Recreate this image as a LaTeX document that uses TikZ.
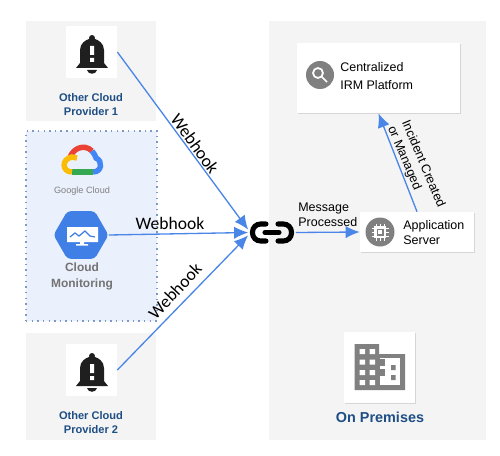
\documentclass[tikz,border=0pt]{standalone}
\usepackage{fontspec}
\setmainfont{Liberation Sans}
\newfontfamily\webfont{Carlito}
\usetikzlibrary{arrows.meta,shadows,shapes.geometric}
\definecolor{panelgray}{HTML}{F4F4F4}
\definecolor{panelblue}{HTML}{EAF0FC}
\definecolor{dotblue}{HTML}{7F99C6}
\definecolor{arrowblue}{HTML}{4A86E8}
\definecolor{headblue}{HTML}{1F4E84}
\definecolor{icongray}{HTML}{808080}
\definecolor{hexblue}{HTML}{3F7FE6}
\definecolor{logored}{HTML}{EA4335}
\definecolor{logoblue}{HTML}{4285F4}
\definecolor{logogreen}{HTML}{34A853}
\definecolor{logoyellow}{HTML}{FBBC05}
\tikzset{
    panelbox/.style={fill=#1, draw=none, inner sep=0pt},
    iconbox/.style={fill=white, draw=none, inner sep=0pt, minimum width=1.02cm, minimum height=1.04cm},
    shadowbox/.style={fill=white, draw=none, inner sep=0pt, drop shadow={shadow xshift=0.3pt, shadow yshift=-0.6pt, opacity=0.25}},
    flow/.style={arrowblue, line width=0.75pt, -{Latex[length=8pt,width=7pt]}},
    headtext/.style={text=headblue, font=\bfseries\fontsize{6.3}{8}\selectfont, align=center},
    greytext/.style={text=black!55, font=\bfseries\fontsize{6.8}{8.8}\selectfont, align=center},
    boxtext/.style={align=left, anchor=west, font=\fontsize{7.1}{10}\selectfont},
    smalltext/.style={align=left, font=\fontsize{7.1}{8.6}\selectfont},
    webhook/.style={font=\webfont\fontsize{10}{12}\selectfont}
}
\newcommand{\bellicon}[2]{%
    \begin{scope}[shift={(#1,#2)}]
        \fill[black!88] (-16,15) -- (-12,10) -- (-12,-3) .. controls (-12,-10) and (-6,-13) .. (-3,-14)
            -- (3,-14) .. controls (6,-13) and (12,-10) .. (12,-3) -- (12,10) -- (16,15) -- cycle;
        \fill[black!88] (0,-15) circle (3);
        \fill[black!88] (-5,17) .. controls (-4,22) and (4,22) .. (5,17) -- cycle;
        \fill[white] (-2,-7) rectangle (2,2) (-2,5) rectangle (2,9);
    \end{scope}}
\begin{document}
\begin{tikzpicture}[x=0.02cm, y=-0.02cm]
    \useasboundingbox (0,0) rectangle (500,456);
    % panels
    \node (top) at (91,71) [panelbox=panelgray, minimum width=2.6cm, minimum height=2cm] {};
    \node (gcp) at (91.5,226) [panelbox=panelblue, minimum width=2.62cm, minimum height=3.8cm, draw=dotblue, dash pattern=on 0.8pt off 2.4pt, line width=0.8pt] {};
    \node (bottom) at (91,386.5) [panelbox=panelgray, minimum width=2.6cm, minimum height=2.14cm] {};
    \node (prem) at (377.5,230.5) [panelbox=panelgray, minimum width=4.34cm, minimum height=8.38cm] {};
    % boxes
    \node (bell1) at (91.5,52) [iconbox] {};
    \node (bell2) at (91.5,370) [iconbox] {};
    \node (irm) at (378.5,78) [shadowbox, minimum width=3.26cm, minimum height=1.4cm] {};
    \node (app) at (417,232) [shadowbox, minimum width=2.28cm, minimum height=0.8cm] {};
    \node (build) at (379.5,367.5) [shadowbox, minimum width=1.42cm, minimum height=1.42cm] {};
    \node (hex) at (81,235) [regular polygon, regular polygon sides=6, fill=hexblue, inner sep=0pt, minimum size=1.1cm, rounded corners=2pt] {};
    \node (link) at (272,232.5) [inner sep=0pt, minimum width=0.94cm, minimum height=0.5cm] {};
    % icons
    \bellicon{92}{53}
    \bellicon{92}{371}
    \begin{scope}[line width=3.1pt]
        \draw[logored] (70,158) .. controls (72,149) and (84,143) .. (92,151);
        \draw[logoblue] (92,151) .. controls (94,154) and (96,156) .. (96,158) .. controls (103,161) and (102,172) .. (93,172);
        \draw[logogreen] (93,172) -- (72,172);
        \draw[logoyellow] (72,172) .. controls (62,172) and (61,159) .. (72,157) -- (77,158);
    \end{scope}
    \fill[white] (67,227) rectangle (98,242) (80,242) rectangle (84,244) (76,244) rectangle (88,245.5);
    \draw[hexblue, line width=0.7pt] (70,237) -- (75,233) -- (79,236) -- (85,231) -- (90,236) -- (95,237);
    \fill[icongray] (320,75) circle (14);
    \draw[white, line width=1pt] (318,73) circle (5) (322,77) -- (327,82);
    \fill[icongray] (380,232) circle (14.5);
    \foreach \p in {-4,0,4}{%
        \draw[white, line width=0.4pt] (380+\p,223.5) -- (380+\p,240.5) (371.5,232+\p) -- (388.5,232+\p);%
    }
    \fill[white] (374,226) rectangle (386,238);
    \fill[icongray] (376.5,228.5) rectangle (383.5,235.5);
    \fill[white] (378,230) rectangle (382,234);
    % building
    \fill[icongray] (354.5,344) rectangle (379,390) (379,354) rectangle (405,390);
    \fill[white] (380,358) rectangle (400,385);
    \foreach \r in {349,359.5,370,380}{%
        \fill[white] (359.5,\r) rectangle (365,\r+5) (369.5,\r) rectangle (375,\r+5);%
    }
    \foreach \r in {359.5,370}{%
        \fill[icongray] (380,\r-1) rectangle (385,\r+6);%
    }
    \fill[icongray] (391,365) rectangle (395.5,370) (391,375) rectangle (395.5,380);
    % link
    \begin{scope}[line width=2.9pt, line cap=round]
        \draw[rounded corners=4.6pt] (266,224) -- (252.5,224) -- (252.5,241) -- (266,241);
        \draw[rounded corners=4.6pt] (278,224) -- (291.5,224) -- (291.5,241) -- (278,241);
        \draw (265,232.5) -- (279,232.5);
    \end{scope}
    % texts
    \node (topname) at (91,105) [headtext] {Other Cloud\\Provider 1};
    \node (bottomname) at (91,423) [headtext] {Other Cloud\\Provider 2};
    \node (gcpname) at (82,191) [text=black!50, font=\fontsize{5.2}{6}\selectfont] {Google Cloud};
    \node (hexname) at (82,276.5) [greytext] {Cloud\\Monitoring};
    \node (premname) at (380,417) [text=headblue, font=\bfseries\fontsize{8.2}{10}\selectfont] {On Premises};
    \node (irmname) at (340,76) [boxtext, inner sep=0pt] {Centralized\\IRM Platform};
    \node (appname) at (403,232.5) [boxtext, inner sep=0pt, font=\fontsize{7.1}{8.6}\selectfont] {Application\\Server};
    % connectors
    \draw[flow] (bell1.east) -- ([yshift=1.6pt]link.west);
    \draw[flow] (hex.east) -- (link.west);
    \draw[flow] (bell2.east) -- ([yshift=-1.6pt]link.west);
    \draw[flow] (link.east) -- (app.west);
    \draw[flow] (app.north) -- (irm.south);
    % labels
    \node (web1) at (195,144) [rotate=-54, webhook] {Webhook};
    \node (web2) at (170,223) [webhook] {Webhook};
    \node (web3) at (175,291) [rotate=47, webhook] {Webhook};
    \node (msg) at (298,214.5) [smalltext, anchor=west, inner sep=0pt] {Message\\Processed};
    \node (inc) at (416,167) [rotate=-67, font=\fontsize{7.2}{8.6}\selectfont, align=left] {Incident Created\\or Managed};
\end{tikzpicture}
\end{document}
